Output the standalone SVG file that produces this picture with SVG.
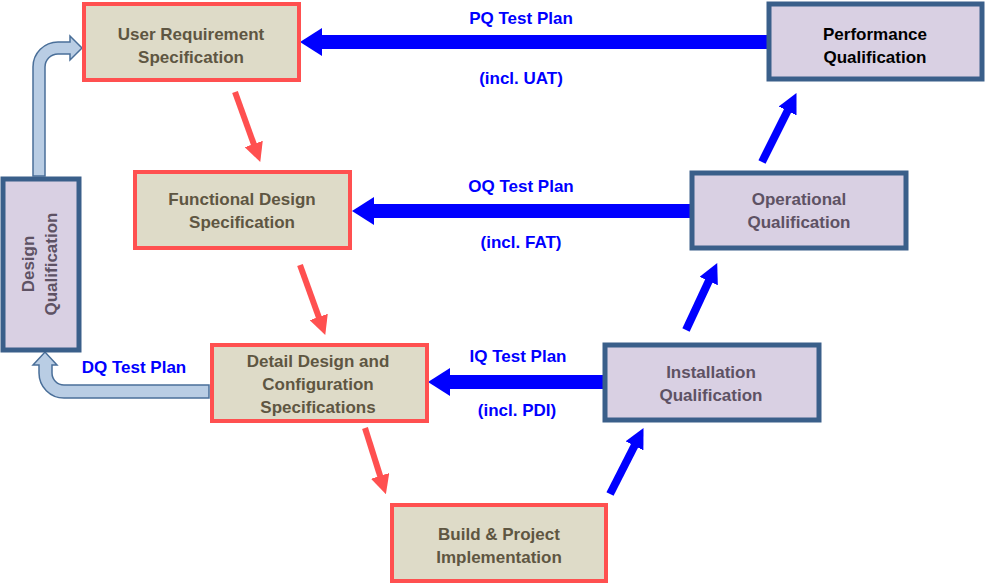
<svg xmlns="http://www.w3.org/2000/svg" width="987" height="585" viewBox="0 0 987 585">
<defs><style>
.r{fill:#dedbc8;stroke:#ff5050;stroke-width:4}
.q{fill:#d9d0e3;stroke:#3a5f8a;stroke-width:5}
text{font-family:"Liberation Sans",Arial,sans-serif;font-weight:bold;font-size:17px;text-anchor:middle}
.tr{fill:#5e5642}.tq{fill:#5e5264}.tb{fill:#0000ff}
.blk{fill:#b9cde4;stroke:#4a6f99;stroke-width:1.5}
</style>
<marker id="rh" viewBox="0 0 10 10" refX="5" refY="5" markerWidth="3.2" markerHeight="3.2" orient="auto"><path d="M0,0L10,5L0,10z" fill="#ff5050"/></marker>
<marker id="bh" viewBox="0 0 10 10" refX="5" refY="5" markerWidth="2.5" markerHeight="2.5" orient="auto"><path d="M0,0L10,5L0,10z" fill="#0000ff"/></marker>
</defs>
<g id="connectors">
<path class="blk" d="M33,176 L33,67 A25,25 0 0 1 58,42 L70,42 L70,36 L82,48 L70,60 L70,54 L58,54 A13,13 0 0 0 45,67 L45,176 Z"/>
<path class="blk" d="M209,385 L64,385 A12,12 0 0 1 52,373 L52,365 L57,365 L45,352 L33,365 L39,365 L39,373 A25,25 0 0 0 64,398 L209,398 Z"/>
<path d="M768,42H318" stroke="#0000ff" stroke-width="14"/><path d="M322,28L300,42L322,56z" fill="#0000ff"/>
<path d="M690,211H372" stroke="#0000ff" stroke-width="14"/><path d="M374,197L352,211L374,225z" fill="#0000ff"/>
<path d="M604,382H450" stroke="#0000ff" stroke-width="14"/><path d="M450,368L428,382L450,396z" fill="#0000ff"/>
<g stroke="#ff5050" stroke-width="6" marker-end="url(#rh)">
<path d="M235,92L257,153"/><path d="M300,265L322,326"/><path d="M365,428L383,485"/>
</g>
<g stroke="#0000ff" stroke-width="8" marker-end="url(#bh)">
<path d="M610,494L639,437"/><path d="M686,330L713,272"/><path d="M762,162L792,102"/>
</g>
<text class="tb" x="521" y="24">PQ Test Plan</text><text class="tb" x="521" y="84">(incl. UAT)</text>
<text class="tb" x="521" y="192">OQ Test Plan</text><text class="tb" x="521" y="248">(incl. FAT)</text>
<text class="tb" x="518" y="362">IQ Test Plan</text><text class="tb" x="517" y="416">(incl. PDI)</text>
<text class="tb" x="134" y="373">DQ Test Plan</text>
</g>
<g id="urs"><rect class="r" x="84" y="4" width="215" height="76"/><text class="tr" x="191" y="40">User Requirement</text><text class="tr" x="191" y="63">Specification</text></g>
<g id="fds"><rect class="r" x="135" y="172" width="215" height="76"/><text class="tr" x="242" y="205">Functional Design</text><text class="tr" x="242" y="228">Specification</text></g>
<g id="ddcs"><rect class="r" x="212" y="345" width="215" height="76"/><text class="tr" x="318" y="367">Detail Design and</text><text class="tr" x="318" y="390">Configuration</text><text class="tr" x="318" y="413">Specifications</text></g>
<g id="build"><rect class="r" x="392" y="505" width="214" height="76"/><text class="tr" x="499" y="540">Build &amp; Project</text><text class="tr" x="499" y="563">Implementation</text></g>
<g id="iq"><rect class="q" x="605" y="345" width="214" height="75"/><text class="tq" x="711" y="378">Installation</text><text class="tq" x="711" y="401">Qualification</text></g>
<g id="oq"><rect class="q" x="692" y="173" width="214" height="75"/><text class="tq" x="799" y="205">Operational</text><text class="tq" x="799" y="228">Qualification</text></g>
<g id="pq"><rect class="q" x="769" y="4" width="213" height="75"/><text x="875" y="40" fill="#000">Performance</text><text x="875" y="63" fill="#000">Qualification</text></g>
<g id="dq"><rect class="q" x="3" y="179" width="76" height="171"/><g transform="translate(40,264) rotate(-90)"><text class="tq" x="0" y="-6">Design</text><text class="tq" x="0" y="17">Qualification</text></g></g>
</svg>
